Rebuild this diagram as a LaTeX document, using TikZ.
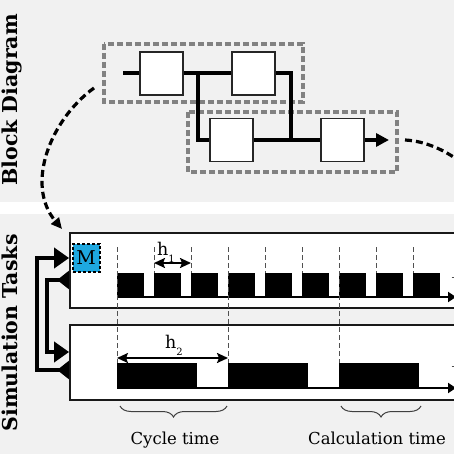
\documentclass[tikz,border=0pt]{standalone}
\usepackage{fontspec}
\setmainfont{DejaVu Serif}
\usetikzlibrary{arrows.meta,decorations.pathreplacing,calc}
\definecolor{bgray}{RGB}{241,241,241}
\definecolor{dgray}{RGB}{130,130,130}
\definecolor{vgray}{RGB}{80,80,80}
\definecolor{mblue}{RGB}{30,168,224}
\begin{document}
\begin{tikzpicture}[x=1pt,y=-1pt,
  blk/.style={draw=black!85,line width=1.7pt,fill=white,minimum width=43pt,minimum height=43pt,inner sep=0pt},
  grp/.style={draw=dgray,line width=3.2pt,dash pattern=on 6pt off 3pt},
  wire/.style={line width=4pt,line join=miter},
  dcurve/.style={line width=3.2pt,dash pattern=on 7pt off 4pt},
  taskbox/.style={draw=black!90,line width=1.8pt,fill=white,minimum width=400pt,minimum height=75pt,inner sep=0pt},
  mbox/.style={fill=mblue,draw=black,line width=2pt,dash pattern=on 3pt off 2pt,minimum width=27pt,minimum height=28pt,inner sep=0pt,font=\fontsize{19}{19}\selectfont},
  loopw/.style={line width=4pt,line join=miter,{Triangle[reversed,length=12pt,width=18pt]}-{Triangle[length=15pt,width=20pt]}},
  vdash/.style={draw=vgray,line width=1pt,dash pattern=on 5pt off 3pt},
  harrow/.style={line width=2pt,{Stealth[length=11pt,width=10pt,inset=2pt]}-{Stealth[length=11pt,width=10pt,inset=2pt]}},
  tline/.style={line width=2.5pt,-{Triangle[length=8pt,width=10pt]}},
  sidelbl/.style={rotate=90,anchor=base,inner sep=0pt,font=\fontsize{20.5}{24}\selectfont\bfseries},
  lbl/.style={inner sep=0pt,font=\fontsize{16.5}{20}\selectfont},
  hlbl/.style={inner sep=0pt,font=\fontsize{17.5}{20}\selectfont},
  brc/.style={draw=black!75,line width=1pt,decorate,decoration={brace,mirror,amplitude=11pt}}
]
\useasboundingbox (0,0) rectangle (454,454);
\clip (0,0) rectangle (454,454);
% backgrounds
\fill[bgray] (0,0) rectangle (454,202);
\fill[white] (0,202) rectangle (454,214);
\fill[bgray] (0,214) rectangle (454,454);
% side labels
\node[sidelbl] (lblbd) at (17,100) {Block Diagram};
\node[sidelbl] (lblst) at (17,333) {Simulation Tasks};
% block diagram groups
\draw[grp] (104,44) rectangle (303,102);
\draw[grp] (188,112) rectangle (397,172);
% blocks
\node[blk] (b1) at (161.5,73.5) {};
\node[blk] (b2) at (253.5,73.5) {};
\node[blk] (b3) at (231.5,140) {};
\node[blk] (b4) at (342.5,140) {};
\coordinate (in) at (123,73.5);
\coordinate (j1) at (198,73.5);
\coordinate (j2) at (291,140);
\coordinate (out) at (389,140);
\draw[wire] (in) -- (b1.west);
\draw[wire] (b1.east) -- (b2.west);
\draw[wire] (j1) |- (b3.west);
\draw[wire] (b2.east) -| (j2);
\draw[wire] (b3.east) -- (b4.west);
\draw[wire,-{Triangle[length=13pt,width=13pt]}] (b4.east) -- (out);
% redraw blocks on top
\node[blk] at (b1) {};
\node[blk] at (b2) {};
\node[blk] at (b3) {};
\node[blk] at (b4) {};
% dashed curves
\coordinate (c1s) at (94,88);
\coordinate (c1e) at (62,229);
\coordinate (c2s) at (405,140);
\coordinate (c2e) at (462,163);
\draw[dcurve,-{Triangle[length=11pt,width=10pt]}] (c1s) .. controls (50,120) and (25,185) .. (c1e);
\draw[dcurve] (c2s) .. controls (425,141) and (445,150) .. (c2e);
% task boxes
\node[taskbox] (t1) at (270,270.5) {};
\node[taskbox] (t2) at (270,362.5) {};
\node[mbox] (M) at (86,258) {M};
% loops
\coordinate (ya) at (0,258);
\coordinate (yb) at (0,280);
\coordinate (yc) at (0,352);
\coordinate (yd) at (0,370);
\draw[loopw] (t2.west |- yd) -- ++(-32,0) |- (t1.west |- ya);
\draw[loopw] (t1.west |- yb) -- ++(-22,0) |- (t2.west |- yc);
% pulses task 1
\foreach \i in {0,...,8} \fill ({117+37*\i},273) rectangle ++(27,24);
\coordinate (a1s) at (117,297);
\coordinate (a1e) at (456,297);
\draw[tline] (a1s) -- (a1e);
% pulses task 2
\foreach \x in {117,228,339} \fill (\x,363) rectangle ++(80,25);
\coordinate (a2s) at (117,388);
\coordinate (a2e) at (456,388);
\draw[tline] (a2s) -- (a2e);
% dashed vertical lines
\foreach \x in {154,191,265,302,376,413} \draw[vdash] (\x,247) -- (\x,273);
\foreach \x in {117,228,339} \draw[vdash] (\x,247) -- (\x,363);
% h arrows
\coordinate (h1a) at (154,263);
\coordinate (h1b) at (191,263);
\draw[harrow] (h1a) -- (h1b);
\node[hlbl,anchor=base west] (h1) at (157,255) {h\raisebox{-7pt}{\fontsize{10}{12}\selectfont 1}};
\coordinate (h2a) at (117,358);
\coordinate (h2b) at (228,358);
\draw[harrow] (h2a) -- (h2b);
\node[hlbl,anchor=base west] (h2) at (165,348) {h\raisebox{-7pt}{\fontsize{10}{12}\selectfont 2}};
% right edge marks
\draw[black!70,line width=1pt] (451.5,277) -- (454,277);
\draw[black!70,line width=1pt] (451.5,366) -- (454,366);
% braces
\coordinate (br1a) at (120,406);
\coordinate (br1b) at (227,406);
\coordinate (br2a) at (341,406);
\coordinate (br2b) at (421,406);
\draw[brc] (br1a) -- (br1b);
\draw[brc] (br2a) -- (br2b);
\node[lbl,anchor=base] (ct) at (175,444) {Cycle time};
\node[lbl,anchor=base] (cat) at (377,444) {Calculation time};
\end{tikzpicture}
\end{document}
